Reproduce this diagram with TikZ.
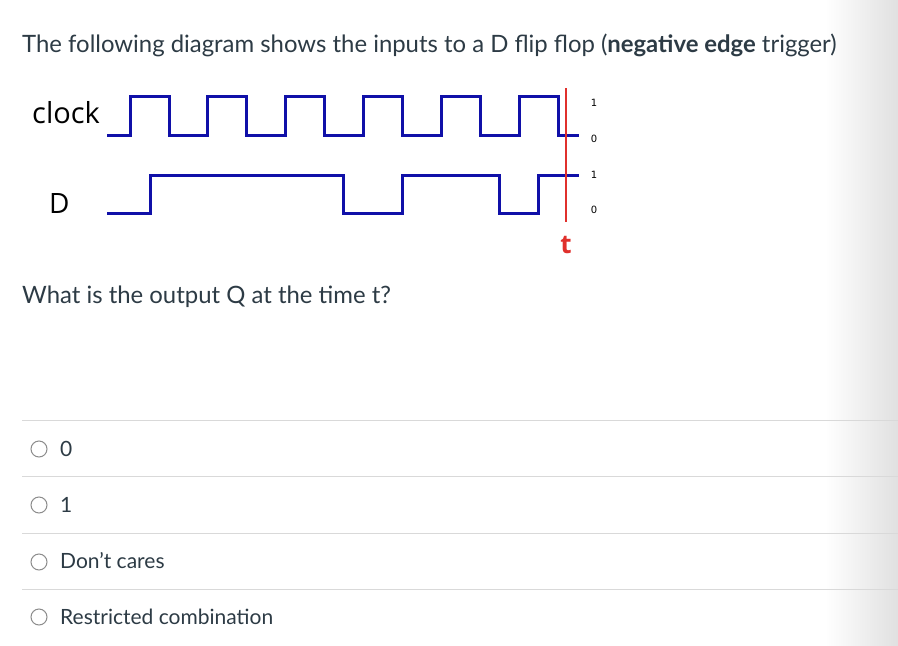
\documentclass[tikz,border=0pt]{standalone}
\usepackage{fontspec}
\setmainfont{Lato}
\newfontfamily\wavefont{Open Sans}
\newfontfamily\levelfont{DejaVu Sans}
\usetikzlibrary{positioning,calc}
\usepackage{xcolor}
\definecolor{canvastext}{HTML}{2D3B45}
\definecolor{wireblue}{HTML}{1010A8}
\definecolor{markred}{HTML}{E0302C}
\definecolor{rulegray}{HTML}{D9D9D9}

\tikzset{
  wave/.style={wireblue, line width=3pt, line join=miter},
  qtext/.style={anchor=base west, inner sep=0pt, text=canvastext, font=\fontsize{23.9}{26}\selectfont},
  opttext/.style={anchor=base west, inner sep=0pt, text=canvastext, font=\fontsize{21}{23}\selectfont},
  radio/.style={draw=gray!90, line width=1pt, circle, minimum size=16pt, inner sep=0pt},
  level/.style={inner sep=0pt, font=\levelfont\fontsize{10}{11}\selectfont}
}

\begin{document}
\begin{tikzpicture}[x=1pt,y=-1pt]
            \useasboundingbox (0,0) rectangle (898,646);
            \fill[white] (0,0) rectangle (898,646);
            % Page shadow
            \fill[left color=white, right color=gray!24] (825,0) rectangle (898,646);

            % Question
            \node[qtext] (title) at (22,52) {The following diagram shows the inputs to a D flip flop (\textbf{negative edge} trigger)};

            % Clock
            \node[anchor=base west, inner sep=0pt, font=\wavefont\fontsize{29}{31}\selectfont] (clk) at (32,123) {clock};
            \draw[wave] (107,135) foreach \i in {0,...,5} {
                -- ({130+77.8*\i},135) -- ++(0,-39) -- ++(39,0) -- ++(0,39) } -- (579,135);

            % D input
            \node[anchor=base west, inner sep=0pt, font=\wavefont\fontsize{28}{30}\selectfont] (din) at (49,213) {D};
            \draw[wave] (107,213) -- (150,213) -- (150,175) -- (343,175) -- (343,213)
                -- (402,213) -- (402,175) -- (499,175) -- (499,213) -- (538,213)
                -- (538,175) -- (579,175);

            % Levels
            \node[level] (c1) at (594,103) {1};
            \node[level] (c0) at (594,139) {0};
            \node[level] (d1) at (594,175) {1};
            \node[level] (d0) at (594,210) {0};

            % Time t
            \coordinate (ttop) at (566,88);
            \coordinate (tbot) at (566,222);
            \draw[markred, line width=1.4pt] (ttop) -- (tbot);
            \node[anchor=base, inner sep=0pt, text=markred, font=\wavefont\bfseries\fontsize{26}{28}\selectfont] (tlabel) at (566,253) {t};

            \node[qtext] (ask) at (22,303) {What is the output Q at the time t?};

            % Answers
            \foreach \y in {420,476,533,589}
                \draw[rulegray, line width=1pt] (22,\y) -- (898,\y);
            \node[radio] (r0) at (39,449) {};
            \node[opttext] (a0) at (60,456) {0};
            \node[radio] (r1) at (39,505) {};
            \node[opttext] (a1) at (60,512) {1};
            \node[radio] (r2) at (39,562) {};
            \node[opttext] (a2) at (60,568) {Don’t cares};
            \node[radio] (r3) at (39,617) {};
            \node[opttext] (a3) at (60,624) {Restricted combination};
        \end{tikzpicture}
\end{document}
